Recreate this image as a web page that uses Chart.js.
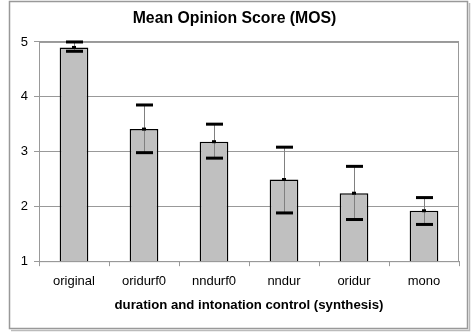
<!DOCTYPE html>
<html>
<head>
<meta charset="utf-8">
<script src="https://cdn.jsdelivr.net/npm/chart.js@4"></script>
<style>
	html, body { margin: 0; padding: 0; background: #fff; }
	#wrap { width: 474px; height: 333px; position: relative; }
</style>
</head>
<body>
<div id="wrap"><canvas id="mosChart"></canvas></div>
<script>
const categories = ["original", "oridurf0", "nndurf0", "nndur", "oridur", "mono"];
const meanScores = [4.9, 3.41, 3.18, 2.49, 2.24, 1.92];
const upperBounds = [5.0, 3.85, 3.5, 3.08, 2.73, 2.16];
const lowerBounds = [4.83, 2.98, 2.88, 1.88, 1.76, 1.67];
const yTicks = [1, 2, 3, 4, 5];

const fontFamily = "'Liberation Sans', Arial, sans-serif";

// outer frame of the figure + plot area box
const framePlugin = {
	id: "frame",
	beforeDraw: (chart) => {
		const ctx = chart.ctx;
		ctx.save();
		ctx.strokeStyle = "#999999";
		ctx.lineWidth = 1.5;
		ctx.strokeRect(9.5, 1.5, 458, 327);
		ctx.strokeStyle = "#bbbbbb";
		ctx.beginPath();
		ctx.moveTo(469.5, 3);
		ctx.lineTo(469.5, 330.5);
		ctx.lineTo(11, 330.5);
		ctx.stroke();
		ctx.restore();
	},
	afterDatasetsDraw: (chart) => {
		const ctx = chart.ctx;
		const area = chart.chartArea;
		ctx.save();
		ctx.strokeStyle = "#999999";
		ctx.lineWidth = 1;
		ctx.strokeRect(area.left + 0.5, area.top + 0.5, area.right - area.left - 1, area.bottom - area.top);
		ctx.restore();
	},
};

// error bars: thin grey whisker, thick black caps, small mean marker
const errorBarPlugin = {
	id: "errorBars",
	afterDatasetsDraw: (chart) => {
		const ctx = chart.ctx;
		const xScale = chart.scales.x;
		const yScale = chart.scales.y;
		ctx.save();
		meanScores.forEach((mean, i) => {
			const x = Math.round(xScale.getPixelForValue(i)) + 0.5;
			const yHigh = yScale.getPixelForValue(upperBounds[i]);
			const yLow = yScale.getPixelForValue(lowerBounds[i]);
			const yMean = yScale.getPixelForValue(mean);
			ctx.strokeStyle = "#808080";
			ctx.lineWidth = 1;
			ctx.beginPath();
			ctx.moveTo(x, yHigh);
			ctx.lineTo(x, yLow);
			ctx.stroke();
			ctx.fillStyle = "#000000";
			ctx.fillRect(x - 8.5, yHigh - 1.5, 17, 3);
			ctx.fillRect(x - 8.5, yLow - 1.5, 17, 3);
			ctx.fillRect(x - 2.5, yMean - 1.5, 4, 3);
		});
		ctx.restore();
	},
};

const chartData = {
	labels: categories,
	datasets: [
		{
			label: "MOS",
			data: meanScores,
			backgroundColor: "#c0c0c0",
			borderColor: "#000000",
			borderWidth: 1.5,
			barPercentage: 0.41,
			categoryPercentage: 1,
		},
	],
};

const chartConfig = {
	type: "bar",
	data: chartData,
	options: {
		responsive: true,
		maintainAspectRatio: false,
		animation: false,
		layout: {
			padding: { left: 10, right: 15, top: 0, bottom: 20 },
		},
		scales: {
			x: {
				grid: {
					display: true,
					offset: true,
					drawOnChartArea: false,
					drawTicks: true,
					tickLength: 5,
					color: "#999999",
				},
				border: { color: "#999999", width: 1 },
				ticks: {
					color: "#000000",
					font: { family: fontFamily, size: 13, lineHeight: 1 },
					padding: 9,
				},
				title: {
					display: true,
					text: "duration and intonation control (synthesis)",
					color: "#000000",
					font: { family: fontFamily, size: 13.2, weight: "bold" },
					padding: { top: 0, bottom: 0 },
				},
			},
			y: {
				min: 1,
				max: 5,
				afterBuildTicks: (scale) => {
					scale.ticks = yTicks.map((v) => ({ value: v }));
				},
				grid: {
					color: "#999999",
					tickLength: 5,
					lineWidth: 1,
				},
				border: { color: "#999999", width: 1 },
				ticks: {
					color: "#000000",
					font: { family: fontFamily, size: 13 },
					padding: 6,
				},
				afterFit: (scale) => {
					scale.width = 29;
				},
			},
		},
		plugins: {
			legend: { display: false },
			tooltip: { enabled: false },
			title: {
				display: true,
				text: "Mean Opinion Score (MOS)",
				color: "#000000",
				font: { family: fontFamily, size: 15.8, weight: "bold" },
				padding: { top: 9, bottom: 14 },
			},
		},
	},
	plugins: [framePlugin, errorBarPlugin],
};

const mosChart = new Chart(document.getElementById("mosChart"), chartConfig);
</script>
</body>
</html>
